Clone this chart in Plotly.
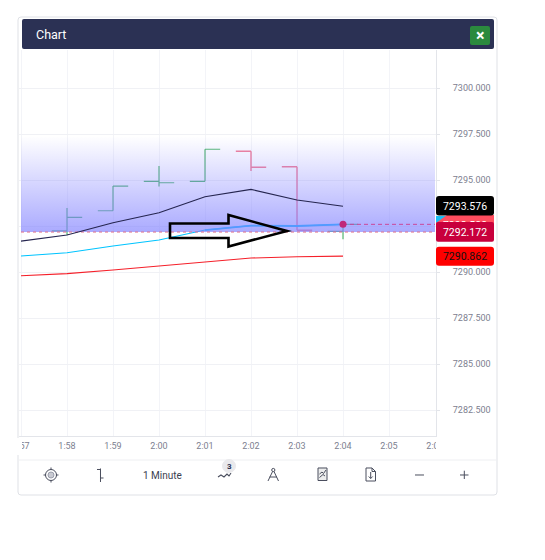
import pandas as pd
import plotly.graph_objects as go

W = 545
H = 560
FONT = "Roboto"

minutes = ["01:58", "01:59", "02:00", "02:01", "02:02", "02:03", "02:04"]
opens = [7292.24, 7293.33, 7294.93, 7294.93, 7296.56, 7295.72, 7292.21]
highs = [7293.48, 7294.67, 7295.76, 7296.67, 7296.56, 7295.72, 7292.59]
lows = [7292.01, 7293.33, 7294.64, 7294.93, 7295.49, 7292.27, 7291.78]
closes = [7292.97, 7294.67, 7294.85, 7296.67, 7295.69, 7292.27, 7292.59]
up_bars = [0, 1, 2, 3, 6]
down_bars = [4, 5]

line_minutes = ["01:57"] + minutes
black_line = [7291.68, 7292.01, 7292.68, 7293.22, 7294.09, 7294.49, 7293.91, 7293.576]
cyan_line = [7290.87, 7291.05, 7291.41, 7291.74, 7292.28, 7292.52, 7292.50, 7292.59]
red_line = [7289.80, 7289.91, 7290.11, 7290.33, 7290.58, 7290.76, 7290.83, 7290.862]

baseline = 7292.172
band_top = 7297.34
last_price = 7292.59
band_minutes = ["01:57", "02:06"]
y_ticks = [7300, 7297.5, 7295, 7292.5, 7290, 7287.5, 7285, 7282.5]


def t(m):
    return f"2024-01-01 {m}:00"


def px(x):
    return x / W


def py(y):
    return 1 - y / H


def poly(points, close=False):
    s = "M" + " L".join(f"{px(x):.5f},{py(y):.5f}" for x, y in points)
    return s + " Z" if close else s


def round_rect(x0, y0, x1, y1, r):
    pts = [
        f"M{px(x0 + r):.5f},{py(y0):.5f}",
        f"L{px(x1 - r):.5f},{py(y0):.5f}",
        f"Q{px(x1):.5f},{py(y0):.5f} {px(x1):.5f},{py(y0 + r):.5f}",
        f"L{px(x1):.5f},{py(y1 - r):.5f}",
        f"Q{px(x1):.5f},{py(y1):.5f} {px(x1 - r):.5f},{py(y1):.5f}",
        f"L{px(x0 + r):.5f},{py(y1):.5f}",
        f"Q{px(x0):.5f},{py(y1):.5f} {px(x0):.5f},{py(y1 - r):.5f}",
        f"L{px(x0):.5f},{py(y0 + r):.5f}",
        f"Q{px(x0):.5f},{py(y0):.5f} {px(x0 + r):.5f},{py(y0):.5f}",
        "Z",
    ]
    return " ".join(pts)


shapes = []
annotations = []


def add_path(path, color="#4a4e5e", width=1, fill=None):
    shapes.append(dict(type="path", xref="paper", yref="paper", path=path, fillcolor=fill,
                       line=dict(color=color, width=width), layer="above"))


def add_circle(x, y, r, color="#4a4e5e", width=1, fill=None):
    shapes.append(dict(type="circle", xref="paper", yref="paper", x0=px(x - r), x1=px(x + r),
                       y0=py(y + r), y1=py(y - r), fillcolor=fill,
                       line=dict(color=color, width=width), layer="above"))


def add_text(x, y, text, size=10, color="#333", anchor="center", family=FONT):
    annotations.append(dict(xref="paper", yref="paper", x=px(x), y=py(y), text=text, showarrow=False,
                            xanchor=anchor, yanchor="middle",
                            font=dict(size=size, color=color, family=family)))


def price_label(y0, y1, fill, text, color, r=3, x0=436):
    shapes.append(dict(type="path", xref="paper", yref="paper", path=round_rect(x0, y0, 494, y1, r),
                       fillcolor=fill, line=dict(width=0), layer="above",
                       label=dict(text=text, textposition="middle center",
                                  font=dict(size=10.5, color=color, family=FONT))))


fig = go.Figure()

for idx, col, lw in ((up_bars, "rgba(44,168,78,0.8)", 1.2), (down_bars, "rgba(240,95,125,0.8)", 1.4)):
    fig.add_trace(go.Ohlc(
        x=[t(minutes[i]) for i in idx],
        open=[opens[i] for i in idx], high=[highs[i] for i in idx],
        low=[lows[i] for i in idx], close=[closes[i] for i in idx],
        tickwidth=0.33,
        increasing=dict(line=dict(color=col, width=lw)),
        decreasing=dict(line=dict(color=col, width=lw)),
    ))

line_x = [t(m) for m in line_minutes]
fig.add_trace(go.Scatter(x=line_x, y=cyan_line, mode="lines", line=dict(color="#00c4ff", width=1.1)))
fig.add_trace(go.Scatter(x=line_x[4:], y=cyan_line[4:], mode="lines", line=dict(color="#00c4ff", width=1.8)))
fig.add_trace(go.Scatter(x=line_x, y=red_line, mode="lines", line=dict(color="#f5202a", width=1.1)))

# blue baseline band, translucent and above the bars
fig.add_trace(go.Scatter(
    x=[t(band_minutes[0]), t(band_minutes[1]), t(band_minutes[1]), t(band_minutes[0])],
    y=[band_top, band_top, baseline, baseline],
    mode="none", fill="toself",
    fillgradient=dict(type="vertical", start=band_top, stop=baseline,
                      colorscale=[[0, "rgba(130,130,255,0)"], [1, "rgba(130,130,255,0.67)"]]),
))
fig.add_trace(go.Scatter(x=[t(m) for m in band_minutes], y=[baseline, baseline], mode="lines",
                         line=dict(color="#e0708a", width=1, dash="dot")))
fig.add_trace(go.Scatter(x=line_x, y=black_line, mode="lines", line=dict(color="#25254f", width=1.1)))

fig.add_trace(go.Scatter(x=[t("02:04"), t("02:06")], y=[last_price, last_price], mode="lines",
                         line=dict(color="#c9479a", width=1, dash="4px,3px")))
fig.add_trace(go.Scatter(x=[t("02:04")], y=[last_price], mode="markers",
                         marker=dict(color="#c0287a", size=7)))

# card and header
shapes.insert(0, dict(type="path", xref="paper", yref="paper", path=round_rect(18, 17, 497, 495, 3),
                      line=dict(color="#dfe1e6", width=1), layer="below"))
add_path(round_rect(22, 19, 494, 49, 2), color="#2b3154", width=0, fill="#2b3154")
add_path(round_rect(470, 26, 490, 45, 2), color="#2b8a3e", width=0, fill="#2b8a3e")
add_text(34, 34, "Chart", size=12.5, color="#ffffff", anchor="left")
add_text(480, 35, "<b>×</b>", size=16, color="#ffffff")

# clip the tick labels at the chart edges
for x0, x1 in ((8, 22), (436, 470)):
    shapes.append(dict(type="rect", xref="paper", yref="paper", x0=px(x0), x1=px(x1), y0=py(455), y1=py(438),
                       fillcolor="#ffffff", line=dict(width=0), layer="above"))

# arrow drawn on the chart
add_path(poly([(170, 223.5), (228.5, 223.5), (228.5, 215), (287, 231), (228.5, 246.5),
               (228.5, 238), (170, 238)], close=True), color="#000000", width=2.6)

# price labels
price_label(216, 234, "#19bdf2", "", "#ffffff", r=0)
shapes.append(dict(type="path", xref="paper", yref="paper",
                   path=poly([(447, 215), (494, 215), (494, 234), (436, 234), (436, 223)], close=True),
                   fillcolor="#ff4d5e", line=dict(width=0), layer="above",
                   label=dict(text="7292.588", textposition="middle center",
                              font=dict(size=10.5, color="#ffffff", family=FONT))))
price_label(196, 215.5, "#000000", "7293.576", "#ffffff")
price_label(222, 241.7, "#c8003c", "7292.172", "#ffffff", r=2)
price_label(246.7, 265.7, "#ff0000", "7290.862", "#111111")

# toolbar
shapes.append(dict(type="line", xref="paper", yref="paper", x0=px(19), x1=px(497), y0=py(460), y1=py(460),
                   line=dict(color="#eeeff2", width=1), layer="above"))
add_circle(51, 475, 5.5)
add_circle(51, 475, 3, color="#9a9dab", fill="#c8cad2")
add_path(poly([(51, 467.5), (51, 470)]))
add_path(poly([(51, 480), (51, 482.5)]))
add_path(poly([(43.5, 475), (46, 475)]))
add_path(poly([(56, 475), (58.5, 475)]))

add_path(poly([(100.5, 468.5), (100.5, 482)]))
add_path(poly([(97, 469.5), (100.5, 469.5)]))
add_path(poly([(100.5, 478), (103.5, 478)]))

add_text(162.7, 475.5, "1 Minute", size=10, color="#3a4150")

add_path(poly([(218, 477), (221, 475), (224, 477), (227, 474), (229, 476), (231, 473)]), width=1.1)
add_circle(229, 466, 6.5, color="#e9e9ec", fill="#e9e9ec")
add_text(229, 466, "<b>3</b>", size=8, color="#2b3154")

add_circle(273.3, 470, 1.6)
add_path(poly([(272.6, 471.5), (268, 481)]))
add_path(poly([(274, 471.5), (278.5, 481)]))
add_path(poly([(269.5, 477), (277, 477)]))

add_path(poly([(318, 468), (327, 468), (327, 480.5), (318, 480.5)], close=True), fill="#eceded")
add_path(poly([(319.5, 474), (322, 472), (323.5, 473.5), (326, 470)]))
add_path(poly([(319.5, 477.5), (323, 474.5), (325, 476)]))

add_path(poly([(366, 468), (372, 468), (375.5, 471.5), (375.5, 481), (366, 481)], close=True))
add_path(poly([(372, 468), (372, 471.5), (375.5, 471.5)]))
add_path(poly([(370.7, 472), (370.7, 478.5)]))
add_path(poly([(368.7, 476.5), (370.7, 478.5), (372.7, 476.5)]))

add_path(poly([(415, 475), (424, 475)]))
add_path(poly([(460, 475), (468.5, 475)]))
add_path(poly([(464.3, 470.7), (464.3, 479)]))

# 46 px per minute, 1:58 sits at x=67
x_start = pd.Timestamp(t("01:58")) + pd.Timedelta(minutes=(19 - 67) / 46)
x_end = pd.Timestamp(t("01:58")) + pd.Timedelta(minutes=(436 - 67) / 46)

fig.update_layout(
    width=W, height=H,
    margin=dict(l=0, r=0, t=0, b=0, autoexpand=False),
    paper_bgcolor="#ffffff", plot_bgcolor="#ffffff",
    showlegend=False,
    shapes=shapes,
    annotations=annotations,
    font=dict(family=FONT, size=9, color="#7d8090"),
    xaxis=dict(
        type="date",
        domain=[px(19), px(436)],
        range=[x_start, x_end],
        tick0=t("01:57"), dtick=60000, tickformat="%-I:%M",
        showgrid=True, gridcolor="#f3f4f8", gridwidth=1,
        showline=True, linecolor="#e3e5ea", linewidth=1,
        ticks="", zeroline=False, ticklabelstandoff=1,
        rangeslider=dict(visible=False),
        tickfont=dict(size=9, color="#7d8090"),
    ),
    yaxis=dict(
        side="right",
        domain=[py(436), py(50)],
        range=[7300 - (436 - 88) / 18.4, 7300 + (88 - 50) / 18.4],
        tickvals=y_ticks, tickformat=".3f",
        showgrid=True, gridcolor="#f0f1f5", gridwidth=1,
        showline=True, linecolor="#e3e5ea", linewidth=1,
        ticks="outside", ticklen=3, tickcolor="#e3e5ea",
        ticklabelstandoff=11, zeroline=False,
        tickfont=dict(size=9, color="#7d8090"),
    ),
)

fig.write_html(
    "out.html",
    config={"displayModeBar": False, "responsive": False},
    default_width="545px",
    default_height="560px",
    post_script="document.body.style.margin='0';document.body.style.overflow='hidden';",
)
